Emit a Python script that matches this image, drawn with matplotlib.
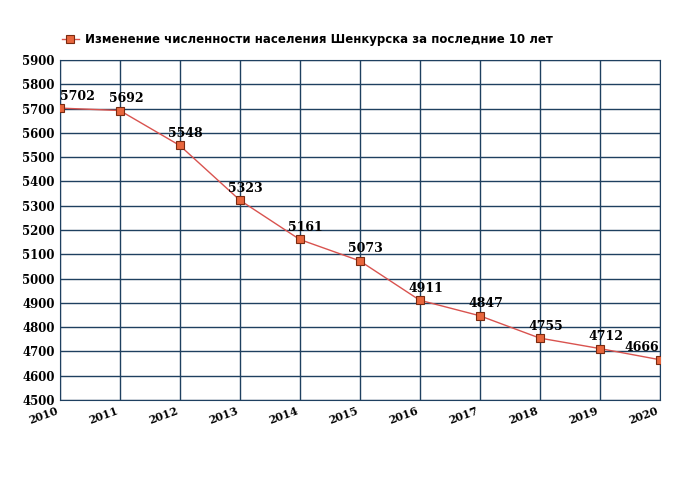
import matplotlib
matplotlib.use("Agg")
import matplotlib.pyplot as plt

# Данные
years = [2010, 2011, 2012, 2013, 2014, 2015, 2016, 2017, 2018, 2019, 2020]
population = [5702, 5692, 5548, 5323, 5161, 5073, 4911, 4847, 4755, 4712, 4666]
title_text = "Изменение численности населения Шенкурска за последние 10 лет"

fig = plt.figure(figsize=(6.8, 5), dpi=100)
ax = fig.add_axes([0.088, 0.2, 0.882, 0.68])

ax.plot(years, population, color="#d9534f", linewidth=1,
        marker="s", markersize=6, markerfacecolor="#e8663d",
        markeredgecolor="#7a2a10", markeredgewidth=0.8, label=title_text, zorder=3)

for x, y in zip(years, population):
    dx = 0.1
    if x == years[0]:
        dx = 0.3
    elif x == years[-1]:
        dx = -0.3
    ax.text(x + dx, y + 22, str(y), fontsize=9, fontweight="bold",
            family="DejaVu Serif", ha="center", va="bottom", zorder=4)

ax.set_xlim(2010, 2020)
ax.set_ylim(4500, 5900)
ax.set_xticks(years)
ax.set_yticks(range(4500, 5901, 100))
ax.grid(True, color="#1f4060", linewidth=1)
for s in ax.spines.values():
    s.set_color("#1f4060")

for lbl in ax.get_xticklabels():
    lbl.set_rotation(20)
    lbl.set_ha("right")
    lbl.set_fontweight("bold")
    lbl.set_family("DejaVu Serif")
    lbl.set_fontsize(8)
for lbl in ax.get_yticklabels():
    lbl.set_fontweight("bold")
    lbl.set_family("DejaVu Serif")
    lbl.set_fontsize(8.5)
ax.tick_params(length=0)

fig.legend(loc="upper left", bbox_to_anchor=(0.075, 0.955), frameon=False,
           handlelength=1.5, handletextpad=0.5,
           prop={"weight": "bold", "size": 8.5})

plt.savefig("out.png", dpi=100)
